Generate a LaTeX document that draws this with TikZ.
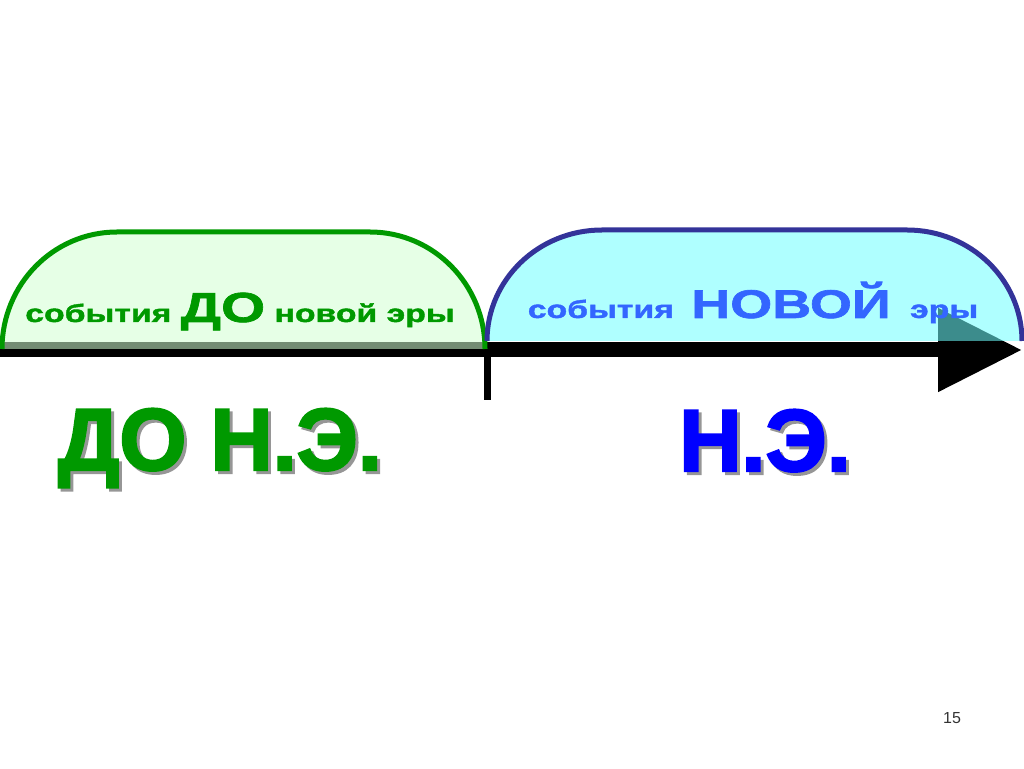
\documentclass[tikz,border=0pt]{standalone}
\usepackage{fontspec}
\setmainfont{Liberation Sans}
\newfontfamily\widefont{Liberation Sans}[FakeStretch=1.35, FakeBold=1.6]
\newfontfamily\heavyfont{Liberation Sans}[FakeStretch=0.98, FakeBold=2.5]
\usepackage{tikz}
\usetikzlibrary{arrows.meta}
\usetikzlibrary{positioning}
\definecolor{eragreen}{RGB}{0,153,0}
\definecolor{greenfill}{RGB}{210,255,210}
\definecolor{eranavy}{RGB}{51,51,153}
\definecolor{cyanfill}{RGB}{110,255,255}
\definecolor{erablue}{RGB}{51,102,255}
\definecolor{bigblue}{RGB}{0,0,255}
\definecolor{shadowgray}{RGB}{150,150,150}
\tikzstyle{dome} = [
    line width=5pt,
    fill opacity=0.55
]
\tikzstyle{axis} = [
    line width=15pt,
    -{Triangle[length=84pt,width=80pt]}
]
\tikzstyle{smalltext} = [
    inner sep=0pt,
    anchor=base,
    font=\widefont\bfseries\fontsize{25}{30}\selectfont
]
\tikzstyle{bigtext} = [
    inner sep=0pt,
    anchor=base,
    font=\heavyfont\bfseries\fontsize{88}{96}\selectfont
]
\begin{document}
\begin{tikzpicture}[x=1pt, y=1pt]
\useasboundingbox (0,0) rectangle (1024,768);

\coordinate (axisstart) at (0,418);
\coordinate (axisend) at (1022,418);
\coordinate (ticktop) at (487,418);
\coordinate (tickbottom) at (487,368);

\draw[axis] (axisstart) -- (axisend);
\draw[line width=7pt] (ticktop) -- (tickbottom);

\draw[dome, draw=eragreen, fill=greenfill]
    (2,419) arc[start angle=180, end angle=90, x radius=115, y radius=117]
    -- ++(253,0)
    arc[start angle=90, end angle=0, x radius=115, y radius=117];

\draw[dome, draw=eranavy, fill=cyanfill]
    (487,427) arc[start angle=180, end angle=90, x radius=115, y radius=111]
    -- ++(305,0)
    arc[start angle=90, end angle=0, x radius=115, y radius=111];

\node[smalltext, text=eragreen] (beforeline) at (240,446)
    {события {\fontsize{42}{48}\selectfont ДО} новой эры};

\node[smalltext, text=erablue] (afterline) at (753,450)
    {события\hspace{8pt} {\fontsize{40}{48}\selectfont НОВОЙ}\hspace{10pt} эры};

\node[bigtext, text=shadowgray] (beforeshadow) at (223,295) {ДО Н.Э.};
\node[bigtext, text=eragreen] (beforelabel) at (220,298) {ДО Н.Э.};

\node[bigtext, text=shadowgray] (aftershadow) at (768,294) {Н.Э.};
\node[bigtext, text=bigblue] (afterlabel) at (765,297) {Н.Э.};

\node[font=\fontsize{16}{19}\selectfont, text=black!80] (pagenum) at (952,50) {15};

\end{tikzpicture}
\end{document}
